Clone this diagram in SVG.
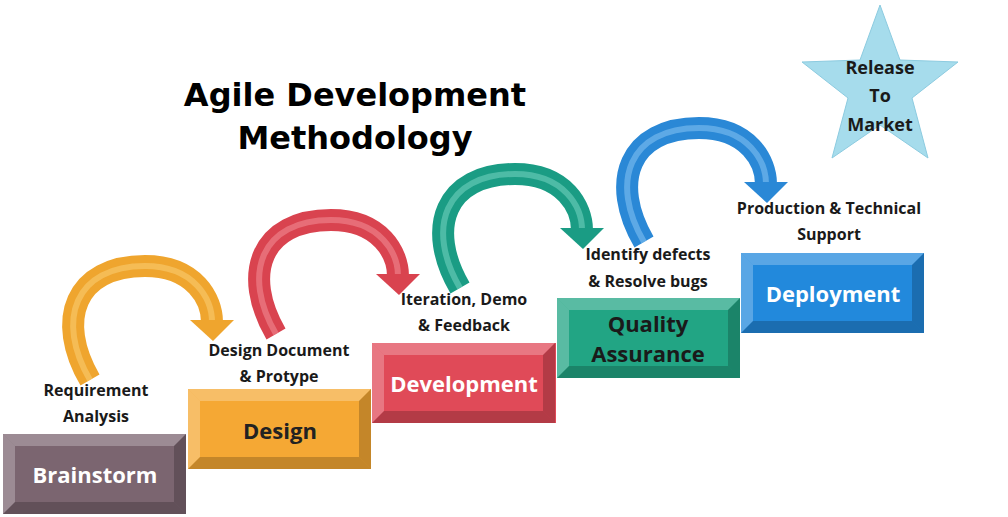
<svg xmlns="http://www.w3.org/2000/svg" width="1008" height="517" viewBox="0 0 1008 517">
<style>
.lbl{font-family:"Open Sans","Liberation Sans",sans-serif;font-weight:bold;font-size:16px;fill:#1a1a1a;text-anchor:middle}
.bt{font-family:"Open Sans","Liberation Sans",sans-serif;font-weight:bold;font-size:22px;text-anchor:middle}
.title{font-family:"DejaVu Sans","Liberation Sans",sans-serif;font-weight:bold;font-size:32px;fill:#000;text-anchor:middle}
.hi{fill:#fff;opacity:0.25}
.lo{fill:#000;opacity:0.2}
</style>
<defs>
<g id="bevel">
<polygon class="hi" points="0,0 183,0 171,12 12,12"/>
<polygon class="hi" points="0,0 12,12 12,68 0,80" opacity="0.15"/>
<polygon class="lo" points="183,0 183,80 171,68 171,12"/>
<polygon class="lo" points="0,80 183,80 171,68 12,68"/>
</g>
</defs>
<rect width="1008" height="517" fill="#fff"/>
<g id="star"><polygon points="880,5 900,60 958,62 912,98 928,158 880,125 832,158 848,98 802,62 860,60" fill="#a6dcec" stroke="#8ccbe0" stroke-width="1"/>
<text class="lbl" font-size="18" x="880" y="74" style="font-size:18px">Release</text><text class="lbl" x="880" y="102" style="font-size:18px">To</text><text class="lbl" x="880" y="131" style="font-size:18px">Market</text></g>
<g id="title"><text class="title" x="355" y="106">Agile Development</text><text class="title" x="355" y="149">Methodology</text></g>
<g id="connectors">
<g id="a1"><path d="M90 380 C55 320 75 266 145 266 C195 266 212 300 212 322" fill="none" stroke="#efa52e" stroke-width="22"/><path d="M90 380 C55 320 75 266 145 266 C195 266 212 300 212 322" fill="none" stroke="#f8cc70" stroke-width="6" opacity="0.6"/><polygon points="190,320 234,320 213,341" fill="#efa52e"/></g>
<g transform="translate(186,-46)"><path d="M90 380 C55 320 75 266 145 266 C195 266 212 300 212 322" fill="none" stroke="#d9434f" stroke-width="22"/><path d="M90 380 C55 320 75 266 145 266 C195 266 212 300 212 322" fill="none" stroke="#f08a92" stroke-width="6" opacity="0.6"/><polygon points="190,320 234,320 213,341" fill="#d9434f"/></g>
<g transform="translate(370,-92)"><path d="M90 380 C55 320 75 266 145 266 C195 266 212 300 212 322" fill="none" stroke="#1a9c84" stroke-width="22"/><path d="M90 380 C55 320 75 266 145 266 C195 266 212 300 212 322" fill="none" stroke="#6fd0bc" stroke-width="6" opacity="0.6"/><polygon points="190,320 234,320 213,341" fill="#1a9c84"/></g>
<g transform="translate(554,-138)"><path d="M90 380 C55 320 75 266 145 266 C195 266 212 300 212 322" fill="none" stroke="#2a88d6" stroke-width="22"/><path d="M90 380 C55 320 75 266 145 266 C195 266 212 300 212 322" fill="none" stroke="#80c0f0" stroke-width="6" opacity="0.6"/><polygon points="190,320 234,320 213,341" fill="#2a88d6"/></g>
</g>
<g id="brainstorm"><rect x="3" y="434" width="183" height="80" fill="#7b6570"/><use href="#bevel" x="3" y="434"/><text class="bt" x="95" y="483" fill="#fff">Brainstorm</text></g>
<g id="design"><rect x="188" y="389" width="183" height="80" fill="#f5a834"/><use href="#bevel" x="188" y="389"/><text class="bt" x="280" y="439" fill="#222">Design</text></g>
<g id="development"><rect x="372" y="343" width="184" height="80" fill="#e04a58"/><use href="#bevel" x="372" y="343"/><text class="bt" x="464" y="392" fill="#fff">Development</text></g>
<g id="qa"><rect x="557" y="298" width="183" height="80" fill="#22a584"/><use href="#bevel" x="557" y="298"/><text class="bt" x="648" y="332" fill="#1a1a1a">Quality</text><text class="bt" x="648" y="362" fill="#1a1a1a">Assurance</text></g>
<g id="deployment"><rect x="741" y="253" width="183" height="80" fill="#2289dc"/><use href="#bevel" x="741" y="253"/><text class="bt" x="833" y="302" fill="#fff">Deployment</text></g>
<g id="labels">
<text class="lbl" x="96" y="396">Requirement</text><text class="lbl" x="96" y="422">Analysis</text>
<text class="lbl" x="279" y="356">Design Document</text><text class="lbl" x="279" y="382">&amp; Protype</text>
<text class="lbl" x="464" y="305">Iteration, Demo</text><text class="lbl" x="464" y="331">&amp; Feedback</text>
<text class="lbl" x="648" y="260">Identify defects</text><text class="lbl" x="648" y="287">&amp; Resolve bugs</text>
<text class="lbl" x="829" y="214">Production &amp; Technical</text><text class="lbl" x="829" y="240">Support</text>
</g>
</svg>
